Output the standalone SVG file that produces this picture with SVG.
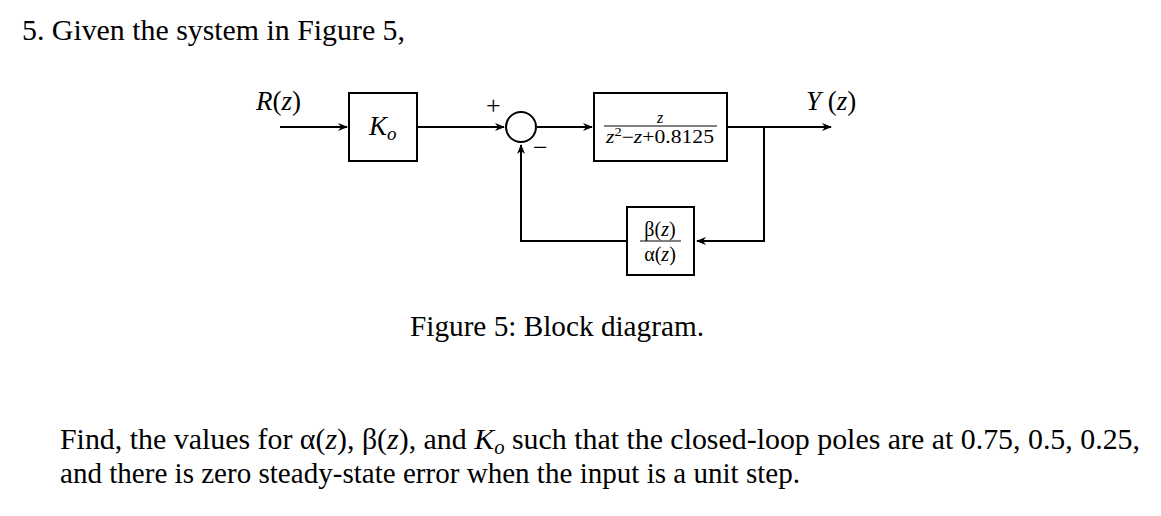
<svg xmlns="http://www.w3.org/2000/svg" width="1161" height="516" viewBox="0 0 1161 516">
<style>
text{font-family:"Liberation Serif",serif;fill:#000}
.b{fill:#fff;stroke:#000;stroke-width:2}
.l{fill:none;stroke:#000;stroke-width:2}
</style>
<defs><marker id="a" markerWidth="10" markerHeight="8" refX="9" refY="4" orient="auto" markerUnits="userSpaceOnUse"><path d="M0,0 L10,4 L0,8 L3,4 Z" fill="#000"/></marker></defs>
<rect width="1161" height="516" fill="#fff"/>
<text x="22" y="40" font-size="29" textLength="383" lengthAdjust="spacingAndGlyphs">5.  Given the system in Figure 5,</text>
<g id="connectors">
<path class="l" d="M280,127 H347" marker-end="url(#a)"/>
<path class="l" d="M418,127 H504" marker-end="url(#a)"/>
<path class="l" d="M537,127 H592" marker-end="url(#a)"/>
<path class="l" d="M728,127 H831" marker-end="url(#a)"/>
<path class="l" d="M764,127 V241 H697" marker-end="url(#a)"/>
<path class="l" d="M627,241 H521 V145" marker-end="url(#a)"/>
</g>
<text x="256" y="110" font-size="27"><tspan font-style="italic">R</tspan>(<tspan font-style="italic">z</tspan>)</text>
<text x="806" y="110" font-size="27"><tspan font-style="italic">Y</tspan> (<tspan font-style="italic">z</tspan>)</text>
<g id="K"><rect class="b" x="349" y="93" width="68" height="68"/><text x="369" y="135" font-size="27" font-style="italic">K<tspan font-size="19" dy="5">o</tspan></text></g>
<g id="sum"><circle class="b" cx="521" cy="127" r="15"/><text x="486" y="114" font-size="26">+</text><text x="533" y="156" font-size="26">−</text></g>
<g id="G"><rect class="b" x="594" y="93" width="133" height="68"/><text x="660" y="123" font-size="16" font-style="italic" text-anchor="middle">z</text><line x1="604" y1="126" x2="717" y2="126" stroke="#000" stroke-width="1"/><text x="660" y="143" font-size="18" text-anchor="middle" textLength="108" lengthAdjust="spacingAndGlyphs"><tspan font-style="italic">z</tspan><tspan font-size="12" dy="-7">2</tspan><tspan dy="7">−</tspan><tspan font-style="italic">z</tspan>+0.8125</text></g>
<g id="H"><rect class="b" x="627" y="207" width="67" height="68"/><text x="660" y="236" font-size="20" text-anchor="middle">β(<tspan font-style="italic">z</tspan>)</text><line x1="640" y1="241" x2="681" y2="241" stroke="#000" stroke-width="1"/><text x="660" y="261" font-size="20" text-anchor="middle">α(<tspan font-style="italic">z</tspan>)</text></g>
<text x="410" y="336" font-size="29" textLength="294" lengthAdjust="spacingAndGlyphs">Figure 5: Block diagram.</text>
<text x="60" y="449" font-size="29" textLength="1080" lengthAdjust="spacingAndGlyphs">Find, the values for α(<tspan font-style="italic">z</tspan>), β(<tspan font-style="italic">z</tspan>), and <tspan font-style="italic">K</tspan><tspan font-style="italic" font-size="20" dy="5">o</tspan><tspan dy="-5"> such that the closed-loop poles are at 0.75, 0.5, 0.25,</tspan></text>
<text x="60" y="483" font-size="29" textLength="740" lengthAdjust="spacingAndGlyphs">and there is zero steady-state error when the input is a unit step.</text>
</svg>
